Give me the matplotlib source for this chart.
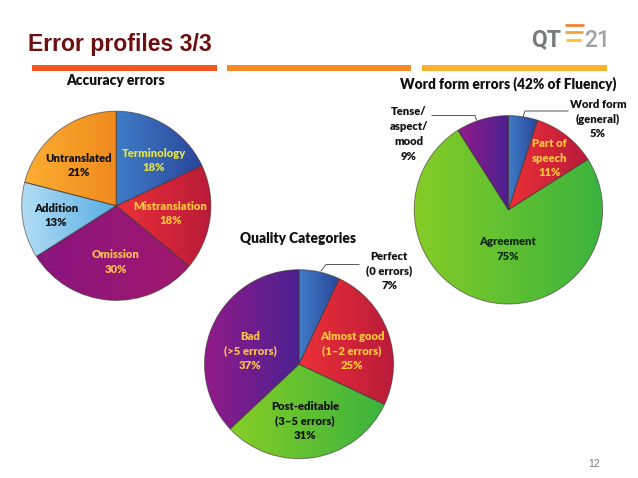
import numpy as np
import matplotlib
matplotlib.use("Agg")
import matplotlib.pyplot as plt
from matplotlib.colors import LinearSegmentedColormap

W, H = 638, 478

accuracy_labels = ["Terminology\n18%", "Mistranslation\n18%", "Omission\n30%", "Addition\n13%", "Untranslated\n21%"]
accuracy_values = [18, 18, 30, 13, 21]
quality_labels = ["Perfect\n(0 errors)\n7%", "Almost good\n(1–2 errors)\n25%", "Post-editable\n(3–5 errors)\n31%", "Bad\n(>5 errors)\n37%"]
quality_values = [7, 25, 31, 37]
wordform_labels = ["Word form\n(general)\n5%", "Part of\nspeech\n11%", "Agreement\n75%", "Tense/\naspect/\nmood\n9%"]
wordform_values = [5, 11, 75, 9]

BLUE = ("#3f7cc6", "#2a469a")
RED = ("#ec3038", "#b81a3a")
PURPLE = ("#931a8a", "#4b2190")
GREEN = ("#86cd26", "#3bb33e")

plt.rcParams["font.family"] = ["Lato", "DejaVu Sans"]
fig = plt.figure(figsize=(W / 100, H / 100), dpi=100, facecolor="white")
bg = fig.add_axes([0, 0, 1, 1])
bg.set_xlim(0, W)
bg.set_ylim(H, 0)
bg.axis("off")


def draw_pie(cx, cy, r, values, grads):
    pad = 1.03
    ax = fig.add_axes([(cx - r * pad) / W, 1 - (cy + r * pad) / H, 2 * r * pad / W, 2 * r * pad / H])
    wedges, _ = ax.pie(values, startangle=90, counterclock=False, radius=1,
                       wedgeprops=dict(facecolor="none", edgecolor="none"))
    for w, (c0, c1) in zip(wedges, grads):
        cmap = LinearSegmentedColormap.from_list("g", [c0, c1])
        pts = w.get_path().transformed(w.get_patch_transform()).vertices
        x0, x1 = pts[:, 0].min(), pts[:, 0].max()
        y0, y1 = pts[:, 1].min(), pts[:, 1].max()
        im = ax.imshow(np.linspace(0, 1, 256)[None, :], extent=(x0, x1, y0, y1),
                       cmap=cmap, aspect="auto", zorder=1, interpolation="bilinear")
        im.set_clip_path(w)
        w.set_edgecolor((0.25, 0.2, 0.2, 0.6))
        w.set_linewidth(0.7)
        w.set_zorder(2)
    ax.set_xlim(-pad, pad)
    ax.set_ylim(-pad, pad)
    ax.set_aspect("equal")
    ax.axis("off")


draw_pie(116.3, 205.8, 94.6, accuracy_values,
         [BLUE, RED, ("#8a1480", "#a0186c"), ("#b4def6", "#55ade2"), ("#fcae32", "#ef8a1d")])
draw_pie(299, 364.2, 94.5, quality_values, [BLUE, RED, GREEN, PURPLE])
draw_pie(508.4, 209.8, 94.2, wordform_values, [BLUE, RED, GREEN, PURPLE])

overlay = fig.add_axes([0, 0, 1, 1], zorder=10)
overlay.set_xlim(0, W)
overlay.set_ylim(H, 0)
overlay.axis("off")
overlay.patch.set_alpha(0)


def label(x, y, s, color="#111111", size=8.1):
    overlay.text(x, y, s, color=color, fontsize=size, fontweight="heavy", ha="center",
                 va="center", linespacing=1.42)


YEL = "#fdc93a"
label(153.5, 160.5, accuracy_labels[0], "#dfe04a")
label(170.5, 213.5, accuracy_labels[1], YEL)
label(116, 262, accuracy_labels[2], "#fbc04a")
label(56, 215.5, accuracy_labels[3])
label(78.5, 165.5, accuracy_labels[4])

label(389, 271, quality_labels[0])
label(352, 351, quality_labels[1], YEL)
label(250, 351, quality_labels[3], "#fbc04a")
label(305, 421, quality_labels[2])

label(598, 119, wordform_labels[0])
label(549.5, 158, wordform_labels[1], YEL)
label(508, 249, wordform_labels[2], "#0f2a10")
label(408.5, 134, wordform_labels[3])

label(116, 80, "Accuracy errors", size=9.9)
label(298, 238.5, "Quality Categories", size=9.9)
label(508, 84, "Word form errors (42% of Fluency)", size=9.9)

overlay.plot([359, 326, 321], [264.5, 264.5, 271], color="#555555", lw=0.7)
overlay.plot([432, 475, 476.5], [115.5, 115.5, 120], color="#555555", lw=0.7)
overlay.plot([568, 525, 523], [111, 111, 117], color="#555555", lw=0.7)

overlay.text(28, 44.5, "Error profiles 3/3", family="Liberation Sans", fontweight="bold",
             fontsize=16.6, color="#6e0f0f", ha="left", va="center")
for x0, x1, c in [(32, 217, "#f4581f"), (227, 411, "#f98a25"), (422, 607, "#fdb22b")]:
    overlay.fill_between([x0, x1], 65, 71, color=c, lw=0)

overlay.text(531, 40, "QT", family="Roboto", fontweight="bold", fontsize=16.5, color="#77797c", ha="left", va="center")
overlay.text(584.5, 40, "21", family="Roboto", fontweight="medium", fontsize=16.5, color="#a0a2a5", ha="left", va="center")
for y, x0, x1, c in [(24.5, 565, 584, "#f4813a"), (32, 565, 583, "#f8a13a"), (40, 566, 581, "#fdc02f")]:
    overlay.plot([x0, x1], [y, y], color=c, lw=2.0, solid_capstyle="butt")

overlay.text(594, 464, "12", family="Liberation Sans", fontsize=7.5, color="#777777", ha="center", va="center")

fig.savefig("out.png", dpi=100, facecolor="white")
